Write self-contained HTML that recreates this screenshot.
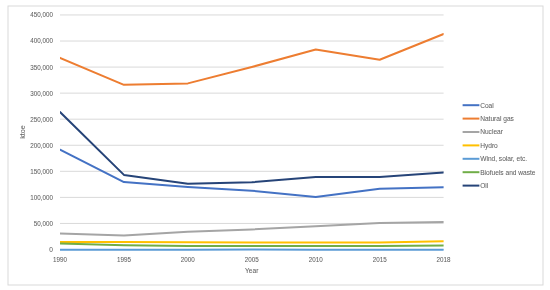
<!DOCTYPE html>
<html><head><meta charset="utf-8"><title>Chart</title>
<style>
html,body{margin:0;padding:0;background:#fff;width:550px;height:290px;overflow:hidden}
svg{display:block}
text{font-family:"Liberation Sans", sans-serif;font-size:6.6px;fill:#626262;stroke:#626262;stroke-width:0.05px}
</style></head><body>
<svg width="550" height="290" viewBox="0 0 550 290">
<defs><clipPath id="pa"><rect x="60.0" y="5" width="383.60" height="260"/></clipPath></defs>
<rect x="8" y="6" width="535" height="279" fill="#fff" stroke="#d9d9d9" stroke-width="1"/>
<line x1="60.0" y1="249.50" x2="443.6" y2="249.50" stroke="#d9d9d9" stroke-width="1"/>
<line x1="60.0" y1="223.44" x2="443.6" y2="223.44" stroke="#d9d9d9" stroke-width="1"/>
<line x1="60.0" y1="197.38" x2="443.6" y2="197.38" stroke="#d9d9d9" stroke-width="1"/>
<line x1="60.0" y1="171.32" x2="443.6" y2="171.32" stroke="#d9d9d9" stroke-width="1"/>
<line x1="60.0" y1="145.26" x2="443.6" y2="145.26" stroke="#d9d9d9" stroke-width="1"/>
<line x1="60.0" y1="119.20" x2="443.6" y2="119.20" stroke="#d9d9d9" stroke-width="1"/>
<line x1="60.0" y1="93.14" x2="443.6" y2="93.14" stroke="#d9d9d9" stroke-width="1"/>
<line x1="60.0" y1="67.08" x2="443.6" y2="67.08" stroke="#d9d9d9" stroke-width="1"/>
<line x1="60.0" y1="41.02" x2="443.6" y2="41.02" stroke="#d9d9d9" stroke-width="1"/>
<line x1="60.0" y1="14.96" x2="443.6" y2="14.96" stroke="#d9d9d9" stroke-width="1"/>
<text x="53.0" y="251.95" text-anchor="end">0</text>
<text x="53.0" y="225.89" text-anchor="end" textLength="19.22" lengthAdjust="spacingAndGlyphs">50,000</text>
<text x="53.0" y="199.83" text-anchor="end" textLength="22.71" lengthAdjust="spacingAndGlyphs">100,000</text>
<text x="53.0" y="173.77" text-anchor="end" textLength="22.71" lengthAdjust="spacingAndGlyphs">150,000</text>
<text x="53.0" y="147.71" text-anchor="end" textLength="22.71" lengthAdjust="spacingAndGlyphs">200,000</text>
<text x="53.0" y="121.65" text-anchor="end" textLength="22.71" lengthAdjust="spacingAndGlyphs">250,000</text>
<text x="53.0" y="95.59" text-anchor="end" textLength="22.71" lengthAdjust="spacingAndGlyphs">300,000</text>
<text x="53.0" y="69.53" text-anchor="end" textLength="22.71" lengthAdjust="spacingAndGlyphs">350,000</text>
<text x="53.0" y="43.47" text-anchor="end" textLength="22.71" lengthAdjust="spacingAndGlyphs">400,000</text>
<text x="53.0" y="17.41" text-anchor="end" textLength="22.71" lengthAdjust="spacingAndGlyphs">450,000</text>
<text x="60.00" y="261.6" text-anchor="middle" textLength="14.0" lengthAdjust="spacingAndGlyphs">1990</text>
<text x="123.93" y="261.6" text-anchor="middle" textLength="14.0" lengthAdjust="spacingAndGlyphs">1995</text>
<text x="187.87" y="261.6" text-anchor="middle" textLength="14.0" lengthAdjust="spacingAndGlyphs">2000</text>
<text x="251.80" y="261.6" text-anchor="middle" textLength="14.0" lengthAdjust="spacingAndGlyphs">2005</text>
<text x="315.73" y="261.6" text-anchor="middle" textLength="14.0" lengthAdjust="spacingAndGlyphs">2010</text>
<text x="379.67" y="261.6" text-anchor="middle" textLength="14.0" lengthAdjust="spacingAndGlyphs">2015</text>
<text x="443.60" y="261.6" text-anchor="middle" textLength="14.0" lengthAdjust="spacingAndGlyphs">2018</text>
<text x="251.7" y="273.4" text-anchor="middle">Year</text>
<text transform="translate(25.4,132) rotate(-90)" text-anchor="middle" textLength="13.6" lengthAdjust="spacingAndGlyphs">ktoe</text>
<polyline clip-path="url(#pa)" points="60.00,149.70 123.93,182.10 187.87,187.00 251.80,190.70 315.73,197.00 379.67,188.70 443.60,187.30" fill="none" stroke="#4472C4" stroke-width="2.0" stroke-linejoin="round" stroke-linecap="round"/>
<polyline clip-path="url(#pa)" points="60.00,57.90 123.93,84.80 187.87,83.40 251.80,67.00 315.73,49.50 379.67,59.80 443.60,34.00" fill="none" stroke="#ED7D31" stroke-width="2.0" stroke-linejoin="round" stroke-linecap="round"/>
<polyline clip-path="url(#pa)" points="60.00,233.60 123.93,235.60 187.87,231.70 251.80,229.40 315.73,226.30 379.67,222.90 443.60,221.90" fill="none" stroke="#A5A5A5" stroke-width="2.0" stroke-linejoin="round" stroke-linecap="round"/>
<polyline clip-path="url(#pa)" points="60.00,242.10 123.93,242.10 187.87,242.20 251.80,242.40 315.73,242.40 379.67,242.40 443.60,241.20" fill="none" stroke="#FFC000" stroke-width="2.0" stroke-linejoin="round" stroke-linecap="round"/>
<polyline clip-path="url(#pa)" points="60.00,249.80 123.93,249.80 187.87,249.70 251.80,249.60 315.73,249.70 379.67,249.80 443.60,249.80" fill="none" stroke="#5B9BD5" stroke-width="2.0" stroke-linejoin="round" stroke-linecap="round"/>
<polyline clip-path="url(#pa)" points="60.00,243.50 123.93,245.20 187.87,246.00 251.80,246.00 315.73,246.00 379.67,245.90 443.60,245.50" fill="none" stroke="#70AD47" stroke-width="2.0" stroke-linejoin="round" stroke-linecap="round"/>
<polyline clip-path="url(#pa)" points="60.00,112.00 123.93,174.90 187.87,183.70 251.80,182.30 315.73,177.10 379.67,177.00 443.60,172.40" fill="none" stroke="#264478" stroke-width="2.0" stroke-linejoin="round" stroke-linecap="round"/>
<line x1="462.6" y1="105.20" x2="479.4" y2="105.20" stroke="#4472C4" stroke-width="2.0"/>
<text x="480.2" y="107.50">Coal</text>
<line x1="462.6" y1="118.60" x2="479.4" y2="118.60" stroke="#ED7D31" stroke-width="2.0"/>
<text x="480.2" y="120.90">Natural gas</text>
<line x1="462.6" y1="132.00" x2="479.4" y2="132.00" stroke="#A5A5A5" stroke-width="2.0"/>
<text x="480.2" y="134.30">Nuclear</text>
<line x1="462.6" y1="145.40" x2="479.4" y2="145.40" stroke="#FFC000" stroke-width="2.0"/>
<text x="480.2" y="147.70">Hydro</text>
<line x1="462.6" y1="158.80" x2="479.4" y2="158.80" stroke="#5B9BD5" stroke-width="2.0"/>
<text x="480.2" y="161.10">Wind, solar, etc.</text>
<line x1="462.6" y1="172.20" x2="479.4" y2="172.20" stroke="#70AD47" stroke-width="2.0"/>
<text x="480.2" y="174.50">Biofuels and waste</text>
<line x1="462.6" y1="185.60" x2="479.4" y2="185.60" stroke="#264478" stroke-width="2.0"/>
<text x="480.2" y="187.90">Oil</text>
</svg>
</body></html>
